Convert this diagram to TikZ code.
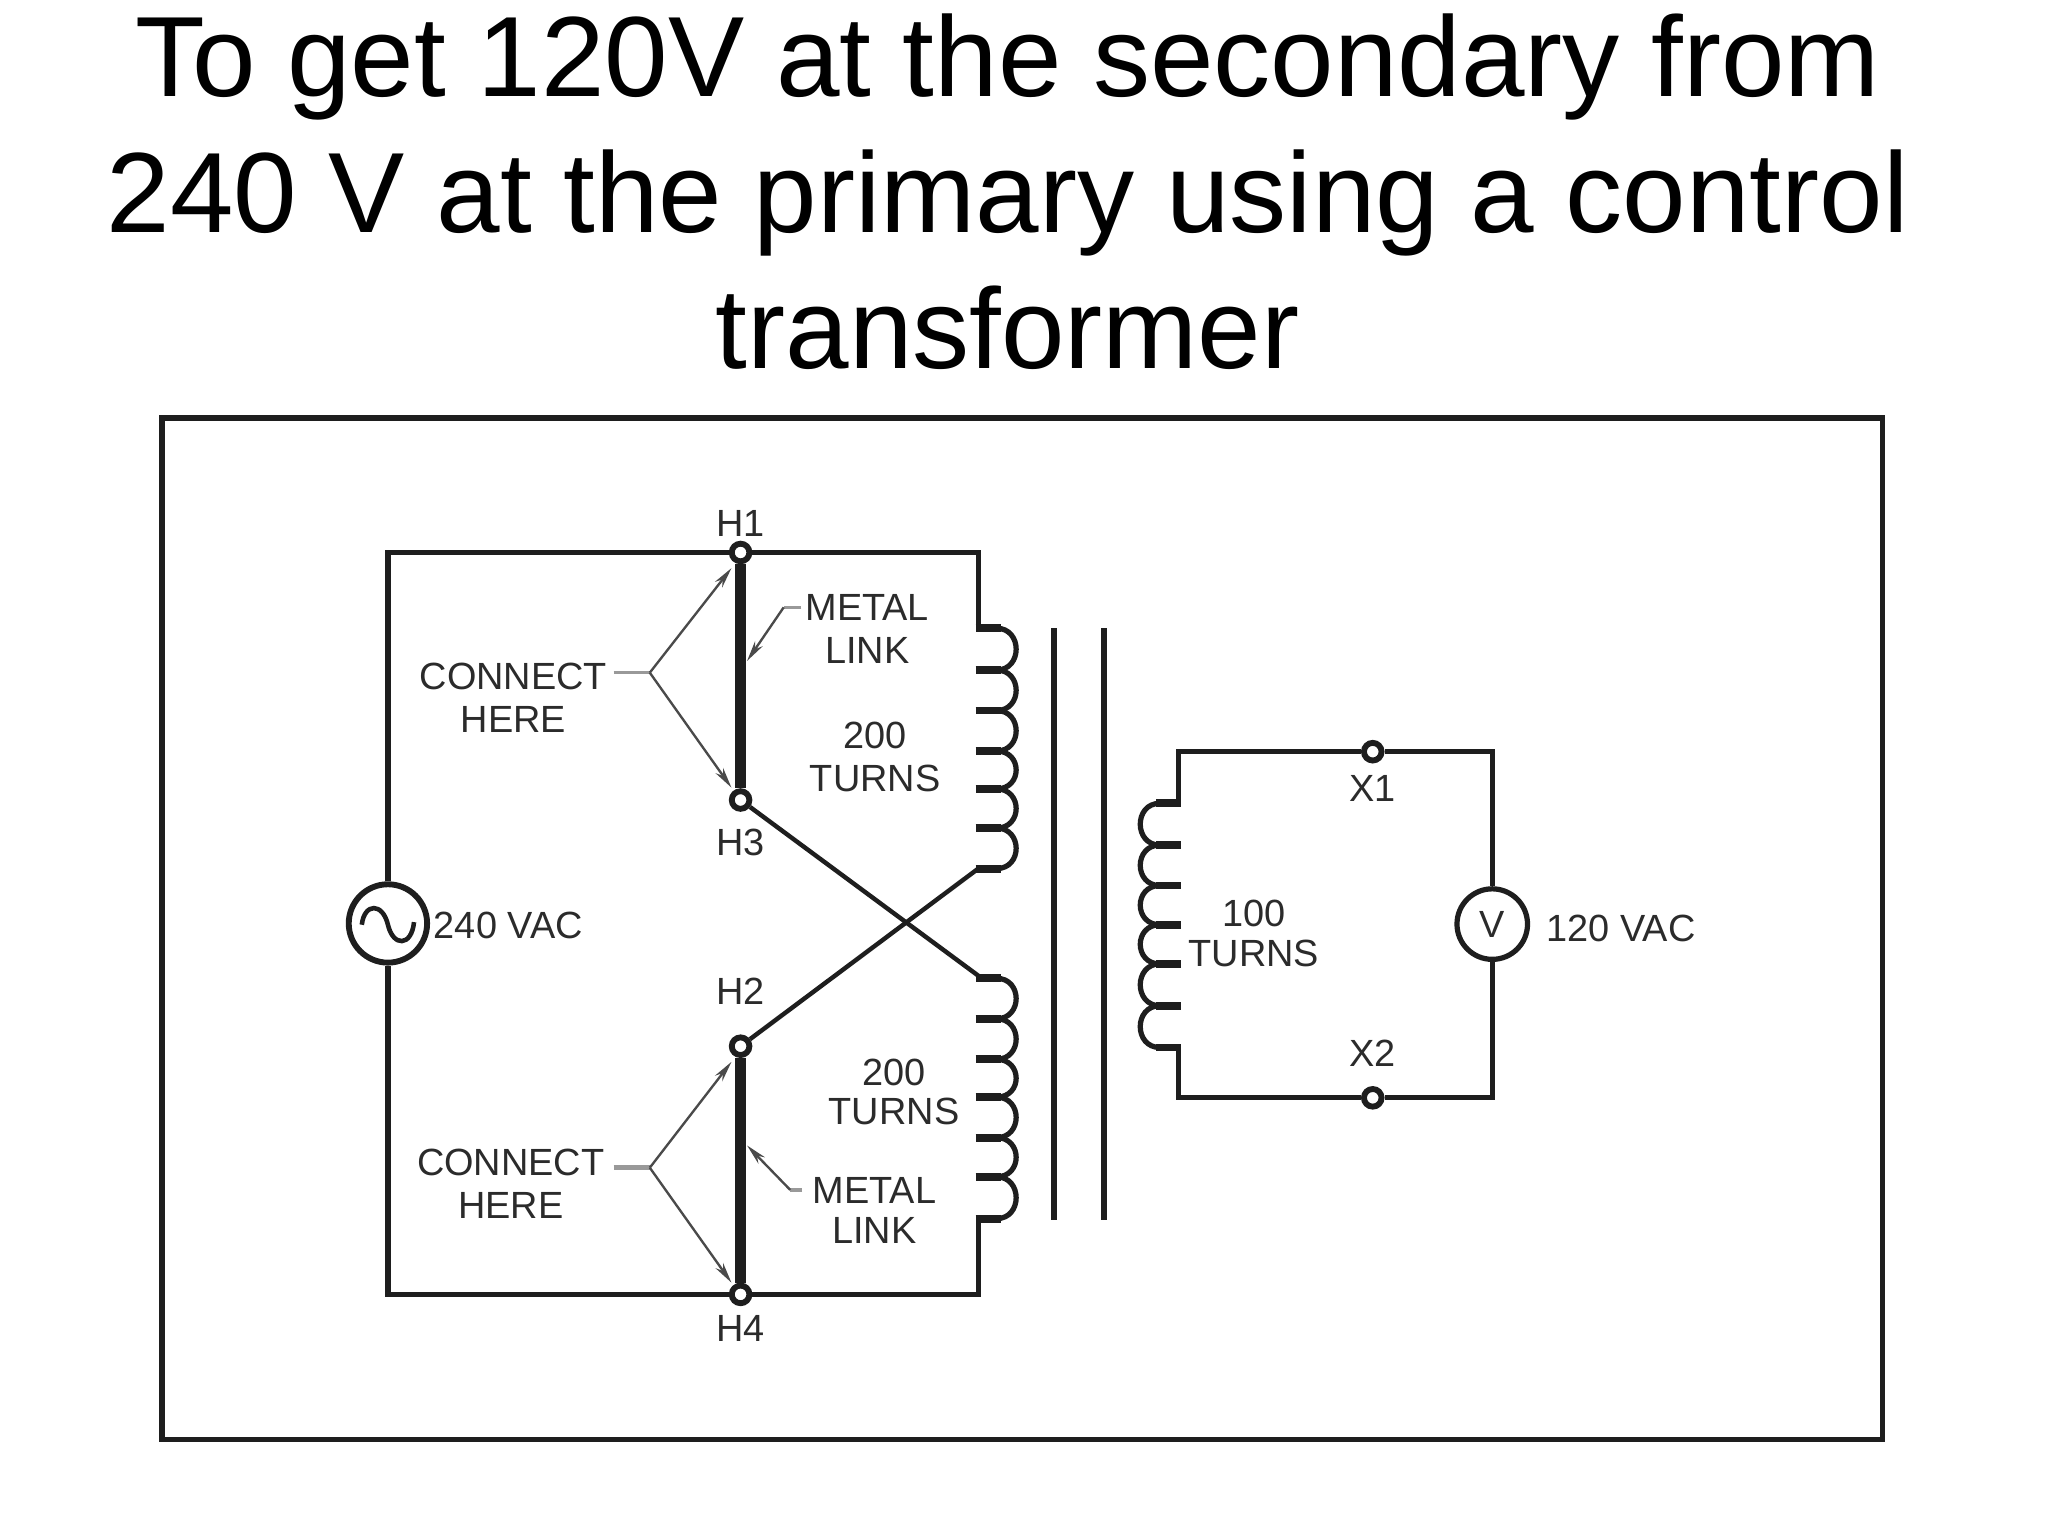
\documentclass[tikz,border=0pt]{standalone}
\usepackage{fontspec}
\setmainfont{Liberation Sans}
\usetikzlibrary{arrows.meta}
\definecolor{ink}{HTML}{1E1E1E}
\definecolor{lab}{HTML}{2B2B2B}
\definecolor{lead}{HTML}{4A4A4A}
\tikzset{
  wire/.style={draw=ink,line width=4pt,line join=miter},
  turn/.style={draw=ink,line width=4pt},
  stub/.style={draw=ink,line width=6pt},
  linkbar/.style={draw=ink,line width=9pt},
  core/.style={draw=ink,line width=4.5pt},
  terminal/.style={circle,draw=ink,fill=white,line width=4.5pt,inner sep=0pt,minimum size=13.5pt},
  meter/.style={circle,draw=ink,fill=white,line width=4.5pt,inner sep=0pt},
  lbl/.style={inner sep=0pt,text=lab,font=\fontsize{29}{33}\selectfont,align=center},
  lbltight/.style={lbl,font=\fontsize{29}{30.5}\selectfont},
  leadline/.style={draw=lead,line width=1.8pt},
  leadarrow/.style={leadline,-{Stealth[length=16pt,width=7pt]}},
  stem/.style={draw=gray!80,line width=2.5pt}
}
\begin{document}
\begin{tikzpicture}[x=1pt,y=-1pt]
\useasboundingbox (0,0) rectangle (1568,1176);
\fill[white] (0,0) rectangle (1568,1176);
\node[inner sep=0pt,align=center,text=black,font=\fontsize{87.4}{104}\selectfont] (title) at (771.5,147) {To get 120V at the secondary from\\240 V at the primary using a control\\transformer};
\node[draw=ink,line width=4pt,minimum width=1317pt,minimum height=782pt,inner sep=0pt] (frame) at (782.5,711) {};
% named points
\node[terminal] (h1) at (567,423) {};
\node[terminal] (h3) at (567,612.5) {};
\node[terminal] (h2) at (567,801) {};
\node[terminal] (h4) at (567,991) {};
\node[terminal] (x1) at (1051,575.5) {};
\node[terminal] (x2) at (1051,840.5) {};
\node[meter,minimum size=60pt] (src) at (297,707) {};
\node[meter,minimum size=54pt,line width=4pt] (vm) at (1142.5,707.5) {};
\coordinate (p1a) at (749,481);
\coordinate (p1b) at (749,665);
\coordinate (p2a) at (749,747);
\coordinate (p2b) at (749,933);
\coordinate (s1) at (902,615);
\coordinate (s2) at (902,802);
\coordinate (r1) at (1142.5,575.5);
\coordinate (r2) at (1142.5,840.5);
% primary wiring
\draw[wire] (src.north) |- (h1);
\draw[wire] (h1) -| (p1a);
\draw[wire] (src.south) |- (h4);
\draw[wire] (h4) -| (p2b);
\draw[wire,line width=3.4pt] (h3) -- (p2a);
\draw[wire,line width=3.4pt] (h2) -- (p1b);
\draw[linkbar] (h1) -- (h3);
\draw[linkbar] (h2) -- (h4);
% primary coils
\foreach \ya/\yb in {481/513,513/544,544/575,575/604,604/634,634/665,
                     749/780,780/811,811/840,840/871,871/901,901/933}
  \draw[turn] (763,\ya) .. controls (783,\ya) and (783,\yb) .. (763,\yb);
\foreach \yy in {481,513,544,575,604,634,665,749,780,811,840,871,901,933}
  \draw[stub] (747,\yy) -- (766,\yy);
% core
\coordinate (c1t) at (807,481); \coordinate (c1b) at (807,934);
\coordinate (c2t) at (845,481); \coordinate (c2b) at (845,934);
\draw[core] (c1t) -- (c1b);
\draw[core] (c2t) -- (c2b);
% secondary
\draw[wire] (s1) |- (x1);
\draw[wire] (x1) -- (r1) -- (vm.north);
\draw[wire] (s2) |- (x2);
\draw[wire] (x2) -- (r2) -- (vm.south);
\foreach \ya/\yb in {615/647,647/678,678/708,708/738,738/770,770/802}
  \draw[turn] (888,\ya) .. controls (868,\ya) and (868,\yb) .. (888,\yb);
\foreach \yy in {615,647,678,708,738,770,802}
  \draw[stub] (904,\yy) -- (885,\yy);
% sine
\draw[ink,line width=3.5pt] (277,708) .. controls (279,691) and (293,691) .. (297,708)
  .. controls (301,725) and (315,725) .. (317,706);
% labels
\node[lbl] (lh1) at (567,401) {H1};
\node[lbl] (lh3) at (567,645) {H3};
\node[lbl] (lh2) at (567,759) {H2};
\node[lbl] (lh4) at (567,1017) {H4};
\node[lbl] (ct) at (393,534.5) {CONNECT\\HERE};
\node[lbl] (cb) at (391,906.5) {CONNECT\\HERE};
\node[lbl,anchor=west] (v240) at (332,708.5) {240 VAC};
\node[lbl,anchor=west] (v120) at (1184,711) {120 VAC};
\node[lbltight] (t100) at (960,714.5) {100\\TURNS};
\node[lbl] (lx1) at (1051,603.5) {X1};
\node[lbl] (lx2) at (1051,806.5) {X2};
\node[lbl] (mt) at (664,481.5) {METAL\\LINK};
\node[lbl] (tt) at (670,579.5) {200\\TURNS};
\node[lbltight] (tb) at (684.5,836) {200\\TURNS};
\node[lbltight] (mb) at (669.5,927) {METAL\\LINK};
\node[inner sep=0pt,text=lab,font=\fontsize{29}{33}\selectfont] (vlab) at (vm) {V};
% leaders
\coordinate (ja) at (497.5,515);
\coordinate (jb) at (497.5,894);
\coordinate (ma) at (600,465);
\coordinate (mc) at (605,911);
\coordinate (ta1) at (560,435); \coordinate (ta2) at (560,603);
\coordinate (tb1) at (560,813); \coordinate (tb2) at (560,982);
\coordinate (la) at (572,506); \coordinate (lb) at (572,877);
\draw[stem] (ct.north east |- ja) ++(5,0) -- (ja);
\draw[stem,line width=3.5pt] (cb.north east |- jb) ++(7,0) -- (jb);
\draw[leadarrow] (ja) -- (ta1);
\draw[leadarrow] (ja) -- (ta2);
\draw[leadarrow] (jb) -- (tb1);
\draw[leadarrow] (jb) -- (tb2);
\draw[stem] (mt.west |- ma) ++(-3,0) -- (ma);
\draw[leadarrow] (ma) -- (la);
\draw[stem] (mb.west |- mc) ++(-8,0) -- (mc);
\draw[leadarrow] (mc) -- (lb);
\end{tikzpicture}
\end{document}
